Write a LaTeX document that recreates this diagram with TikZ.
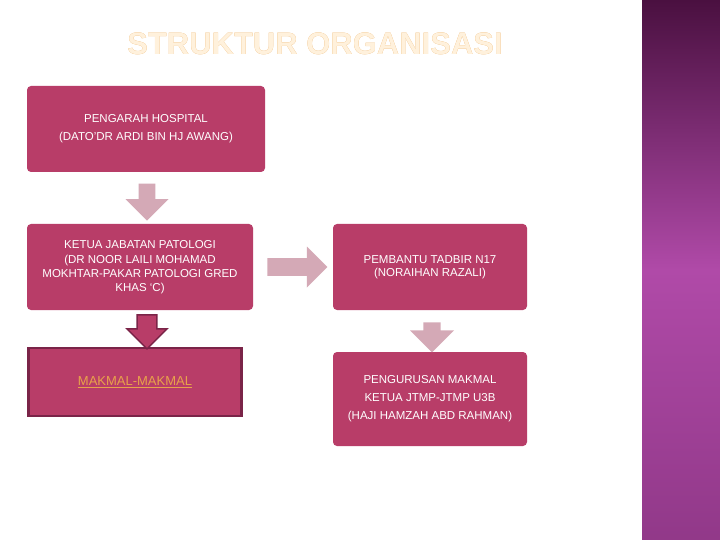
\documentclass[tikz,border=0pt]{standalone}
\usepackage{fontspec}
\setmainfont{Liberation Sans}
\usepackage[outline]{contour}
\contourlength{1.1pt}
\usetikzlibrary{shapes.arrows}
\definecolor{boxc}{HTML}{B83D68}
\definecolor{arrc}{HTML}{D4A9B6}
\definecolor{dark}{HTML}{7A2448}
\definecolor{gold}{HTML}{E8A24A}
\definecolor{cream}{HTML}{FFF1DC}
\definecolor{pdark}{HTML}{4A1040}
\definecolor{pmid}{HTML}{B04AA8}
\tikzset{
  box/.style={fill=boxc,rounded corners=4pt,text=white,align=center,font=\fontsize{11.5}{18}\selectfont,inner sep=0pt},
}
\begin{document}
\begin{tikzpicture}[x=1pt,y=-1pt]
\useasboundingbox (0,0) rectangle (720,540);
\fill[white] (0,0) rectangle (720,540);
\shade[top color=pdark,bottom color=pmid] (642,0) rectangle (720,270);
\shade[top color=pmid,bottom color=pmid!70!pdark] (642,270) rectangle (720,540);
\node (title) at (315,44) {\fontsize{31}{34}\selectfont\bfseries\contour{gold}{\textcolor{cream}{STRUKTUR ORGANISASI}}};
\node[box,minimum width=238,minimum height=86] (a) at (146,129) {PENGARAH HOSPITAL\\(DATO’DR ARDI BIN HJ AWANG)};
\node[box,minimum width=226,minimum height=86] (b) at (140,267) {KETUA JABATAN PATOLOGI\\[-3pt]{\fontsize{11.5}{13}\selectfont(DR NOOR LAILI MOHAMAD}\\[-4pt]{\fontsize{11.5}{13}\selectfont MOKHTAR-PAKAR PATOLOGI GRED}\\[-4pt]{\fontsize{11.5}{13}\selectfont KHAS ‘C)}};
\node[box,minimum width=194,minimum height=86] (c) at (430,267) {PEMBANTU TADBIR N17\\[-5pt](NORAIHAN RAZALI)};
\node[box,rounded corners=0pt,draw=dark,line width=2.5pt,minimum width=213,minimum height=68,font=\fontsize{13}{15}\selectfont] (d) at (135,382) {\textcolor{gold}{\underline{MAKMAL-MAKMAL}}};
\node[box,minimum width=194,minimum height=94] (e) at (430,399) {PENGURUSAN MAKMAL\\KETUA JTMP-JTMP U3B\\(HAJI HAMZAH ABD RAHMAN)};
\node[single arrow,fill=arrc,rotate=-90,minimum height=37,minimum width=43,single arrow head extend=8,inner sep=5] (ar1) at (147,198) {};
\node[single arrow,fill=arrc,minimum height=60,minimum width=41,single arrow head extend=8,inner sep=6] (ar2) at (293,267) {};
\node[single arrow,fill=boxc,draw=dark,line width=1.5pt,rotate=-90,minimum height=34,minimum width=40,single arrow head extend=7,inner sep=6] (ar3) at (147,327) {};
\node[single arrow,fill=arrc,rotate=-90,minimum height=30,minimum width=44,single arrow head extend=8,inner sep=5] (ar4) at (432,333) {};
\end{tikzpicture}
\end{document}
